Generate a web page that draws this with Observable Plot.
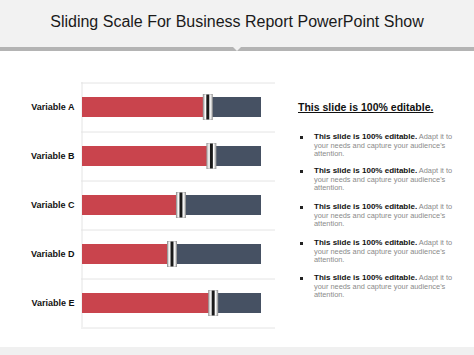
<!DOCTYPE html>
<html>
<head>
<meta charset="utf-8">
<script src="https://cdn.jsdelivr.net/npm/d3@7"></script>
<script src="https://cdn.jsdelivr.net/npm/@observablehq/plot@0.6"></script>
<style>
  html, body { margin: 0; padding: 0; background: #fff; }
  #wrap { position: relative; width: 474px; height: 355px; overflow: hidden; font-family: "Liberation Sans", Arial, sans-serif; background: #fff; }
  #titlebar { position: absolute; left: 0; top: 0; width: 474px; height: 47px; background: #f2f2f2; }
  #title { position: absolute; left: 0; top: 12px; width: 474px; text-align: center; font-size: 16px; color: #1a1a1a; line-height: 20px; }
  #rule { position: absolute; left: 0; top: 47px; width: 474px; height: 4px; background: #b4b4b4; }
  #notch { position: absolute; left: 233px; top: 47px; width: 0; height: 0; border-left: 4px solid transparent; border-right: 4px solid transparent; border-top: 4px solid #f2f2f2; }
  #bottom { position: absolute; left: 0; top: 347px; width: 474px; height: 8px; background: #f0f0f0; }
  #chart { position: absolute; left: 0; top: 0; }
  #side { position: absolute; left: 298px; top: 100px; width: 170px; }
  #side h3 { margin: 0; font-size: 10.5px; font-weight: bold; text-decoration: underline; color: #111; line-height: 14px; }
  #side ul { list-style: none; margin: 0; padding: 0; }
  #side li { position: absolute; left: 16px; width: 150px; font-size: 7.4px; line-height: 8.7px; color: #8a8a8a; }
  #side li b { color: #111; font-size: 8px; }
  #side li::before { content: ""; position: absolute; left: -14px; top: 3px; width: 2.5px; height: 2.5px; background: #222; }
</style>
</head>
<body>
<div id="wrap">
  <div id="titlebar"></div>
  <div id="title"></div>
  <div id="rule"></div>
  <div id="notch"></div>
  <div id="bottom"></div>
  <div id="chart"></div>
  <div id="side">
    <h3 id="heading"></h3>
    <ul id="list"></ul>
  </div>
</div>
<script>
const titleText = "Sliding Scale For Business Report PowerPoint Show";
const categories = ["Variable A", "Variable B", "Variable C", "Variable D", "Variable E"];
const values = [70, 72, 55, 50, 73];
const maxValue = 100;
const headingText = "This slide is 100% editable.";
const bulletBold = "This slide is 100% editable.";
const bulletLines = ["Adapt it to", "your needs and capture your audience's", "attention."];
const bulletTops = [133, 167, 203, 239, 274];

document.getElementById("title").textContent = titleText;
document.getElementById("heading").textContent = headingText;
const list = document.getElementById("list");
bulletTops.forEach(t => {
  const li = document.createElement("li");
  li.style.top = (t - 100) + "px";
  li.innerHTML = "<b>" + bulletBold + "</b> " + bulletLines[0] + "<br>" + bulletLines[1] + "<br>" + bulletLines[2];
  list.appendChild(li);
});

const data = categories.map((c, i) => ({cat: c, v: values[i]}));
const last = [categories[categories.length - 1]];

const red = "#c9444d";
const slate = "#465163";

const chart = Plot.plot({
  width: 474,
  height: 355,
  marginLeft: 82,
  marginRight: 213,
  marginTop: 82,
  marginBottom: 28,
  style: {background: "transparent", fontFamily: "Liberation Sans, Arial, sans-serif"},
  x: {domain: [0, maxValue], axis: null},
  y: {domain: categories, paddingInner: 0.6, paddingOuter: 0.3, label: null, tickSize: 0, tickPadding: 8, fontWeight: "bold"},
  marks: [
    Plot.ruleY(categories, {y: d => d, dy: -24.5, stroke: "#e4e4e4", strokeWidth: 1, insetRight: -14, insetLeft: -1}),
    Plot.ruleY(last, {y: d => d, dy: 24.5, stroke: "#e4e4e4", strokeWidth: 1, insetRight: -14, insetLeft: -1}),
    Plot.ruleX([0], {stroke: "#e4e4e4", strokeWidth: 1, dx: -0.5}),
    Plot.barX(data, {x1: 0, x2: maxValue, y: "cat", fill: slate}),
    Plot.barX(data, {x1: 0, x2: "v", y: "cat", fill: red}),
    Plot.tickX(data, {x: "v", y: "cat", stroke: "#9a9a9a", strokeWidth: 10, insetTop: -3, insetBottom: -3}),
    Plot.tickX(data, {x: "v", y: "cat", stroke: "#d8d8d8", strokeWidth: 8, insetTop: -2.5, insetBottom: -2.5}),
    Plot.tickX(data, {x: "v", y: "cat", stroke: "#ffffff", strokeWidth: 5.5, insetTop: -2.5, insetBottom: -2.5}),
    Plot.tickX(data, {x: "v", y: "cat", stroke: "#1a1a1a", strokeWidth: 3, insetTop: -2.5, insetBottom: -2.5}),
    Plot.axisY({tickSize: 0, tickPadding: 8, fontWeight: "bold", fontSize: 9, label: null, fill: "#111"})
  ]
});
chart.querySelectorAll("text").forEach(t => t.setAttribute("font-size", t.getAttribute("font-size") || ""));
document.getElementById("chart").appendChild(chart);
</script>
</body>
</html>
